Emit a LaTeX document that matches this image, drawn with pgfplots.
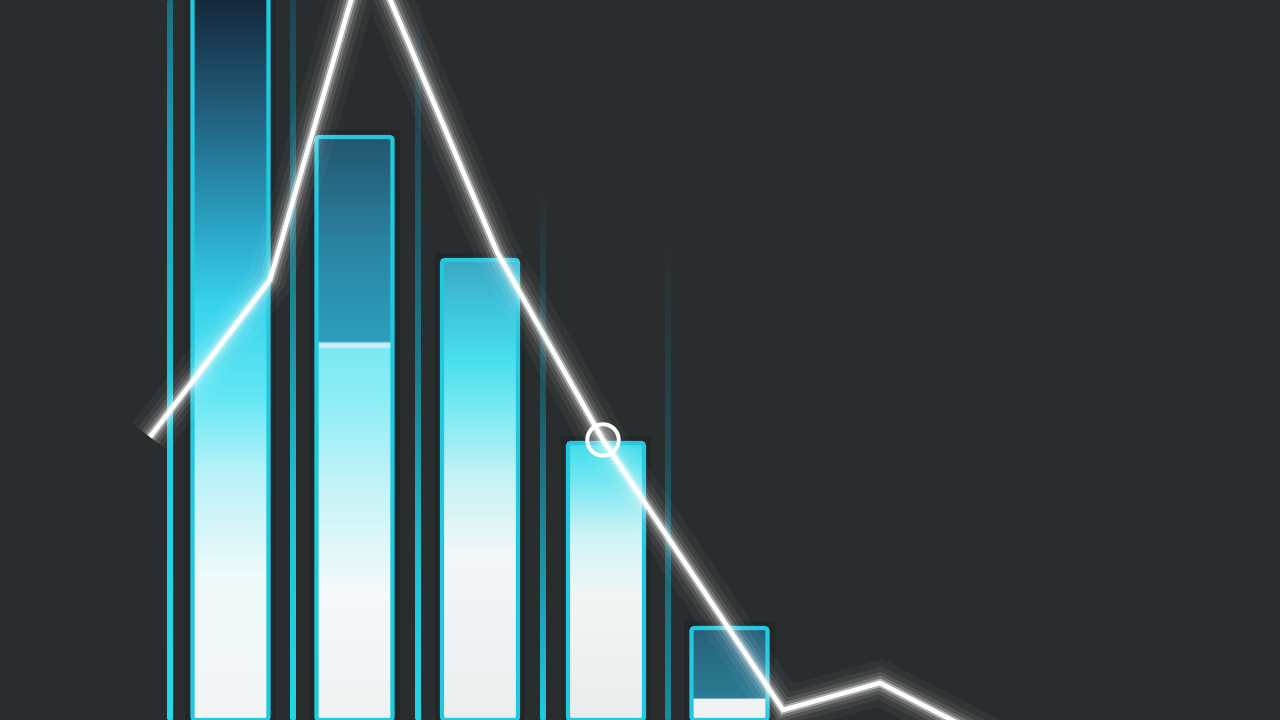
\documentclass[border=0pt]{standalone}
\usepackage{pgfplots}
\usepackage{pgfplotstable}
\pgfplotsset{compat=1.18}
\definecolor{bg}{HTML}{2A2D2E}
\definecolor{edge}{HTML}{22C8E0}
% bar 1
\definecolor{aA}{HTML}{F4F5F5}\definecolor{aB}{HTML}{F0F9FA}\definecolor{aC}{HTML}{B8F2F8}
\definecolor{aD}{HTML}{62E6F4}\definecolor{aE}{HTML}{38D4EC}\definecolor{aF}{HTML}{2AA4C6}
\definecolor{aG}{HTML}{215E7C}\definecolor{aH}{HTML}{15283A}\definecolor{aI}{HTML}{101E2A}
% bar 2
\definecolor{bA}{HTML}{F0F2F2}\definecolor{bB}{HTML}{F4F9F9}\definecolor{bC}{HTML}{C8F4F8}
\definecolor{bD}{HTML}{8CECF4}\definecolor{bE}{HTML}{7AE8F2}\definecolor{bF}{HTML}{C8EEF2}
\definecolor{bG}{HTML}{2C9EBE}\definecolor{bH}{HTML}{2A84A4}\definecolor{bI}{HTML}{23566E}
% bar 3
\definecolor{cA}{HTML}{ECEEEE}\definecolor{cB}{HTML}{F2F7F7}\definecolor{cC}{HTML}{C4F2F6}
\definecolor{cD}{HTML}{80EAF2}\definecolor{cE}{HTML}{48DEEE}\definecolor{cF}{HTML}{3CC0D8}
\definecolor{cG}{HTML}{3AA8C4}
% bar 4
\definecolor{dA}{HTML}{EAECEC}\definecolor{dB}{HTML}{F2F5F5}\definecolor{dC}{HTML}{D0F4F6}
\definecolor{dD}{HTML}{70E6F0}\definecolor{dE}{HTML}{40DCEC}
% bar 5
\definecolor{eA}{HTML}{F2F2F2}\definecolor{eB}{HTML}{2A7C94}\definecolor{eC}{HTML}{27607A}
% thin lines
\definecolor{lA}{HTML}{22DAEA}\definecolor{lB}{HTML}{20CCE0}\definecolor{lC}{HTML}{1C98B0}\definecolor{lD}{HTML}{1A6E84}
\definecolor{mA}{HTML}{22D6E6}\definecolor{mB}{HTML}{20C0D6}\definecolor{mC}{HTML}{1A7484}\definecolor{mD}{HTML}{1E4450}
\definecolor{nB}{HTML}{20C4DA}\definecolor{nC}{HTML}{1A7A8A}\definecolor{nD}{HTML}{24404A}
\definecolor{oA}{HTML}{20CCE0}\definecolor{oB}{HTML}{1C9CB2}\definecolor{oC}{HTML}{1E5562}
\definecolor{pA}{HTML}{1A8C9C}\definecolor{pB}{HTML}{1A7080}\definecolor{pC}{HTML}{234850}

\pgfdeclareverticalshading{barA}{100bp}{color(0bp)=(aA); color(25bp)=(aA); color(34bp)=(aB); color(40.6bp)=(aC); color(45.6bp)=(aD); color(51.2bp)=(aE); color(56.2bp)=(aF); color(63.7bp)=(aG); color(70.6bp)=(aH); color(75bp)=(aI); color(100bp)=(aI)}
\pgfdeclareverticalshading{barB}{100bp}{color(0bp)=(bA); color(25bp)=(bA); color(36bp)=(bB); color(44.4bp)=(bC); color(52.8bp)=(bD); color(56.9bp)=(bE); color(57bp)=(bF); color(57.35bp)=(bF); color(57.5bp)=(bG); color(65.5bp)=(bH); color(75bp)=(bI); color(100bp)=(bI)}
\pgfdeclareverticalshading{barC}{100bp}{color(0bp)=(cA); color(25bp)=(cA); color(43.1bp)=(cB); color(51.6bp)=(cC); color(58bp)=(cD); color(64.4bp)=(cE); color(70.7bp)=(cF); color(75bp)=(cG); color(100bp)=(cG)}
\pgfdeclareverticalshading{barD}{100bp}{color(0bp)=(dA); color(25bp)=(dA); color(47.6bp)=(dB); color(58.1bp)=(dC); color(68.6bp)=(dD); color(75bp)=(dE); color(100bp)=(dE)}
\pgfdeclareverticalshading{barE}{100bp}{color(0bp)=(eA); color(25bp)=(eA); color(36.6bp)=(eA); color(37.2bp)=(eB); color(75bp)=(eC); color(100bp)=(eC)}
\pgfdeclareverticalshading{lnA}{100bp}{color(0bp)=(lA); color(25bp)=(lA); color(45.5bp)=(lB); color(66bp)=(lC); color(75bp)=(lD); color(100bp)=(lD)}
\pgfdeclareverticalshading{lnB}{100bp}{color(0bp)=(mA); color(25bp)=(mA); color(40.8bp)=(mB); color(58bp)=(mC); color(75bp)=(mD); color(100bp)=(mD)}
\pgfdeclareverticalshading{lnC}{100bp}{color(0bp)=(mA); color(25bp)=(mA); color(35bp)=(nB); color(50bp)=(nC); color(68.2bp)=(nD); color(75bp)=(bg); color(100bp)=(bg)}
\pgfdeclareverticalshading{lnD}{100bp}{color(0bp)=(oA); color(25bp)=(oA); color(33.9bp)=(oB); color(48bp)=(oC); color(62bp)=(bg); color(100bp)=(bg)}
\pgfdeclareverticalshading{lnE}{100bp}{color(0bp)=(pA); color(25bp)=(pA); color(33.9bp)=(pB); color(44.2bp)=(pC); color(58bp)=(bg); color(100bp)=(bg)}

\pgfplotstableread{
x y
150 293
270 450
367 785
497 478
603 290
783 20
880 47
1000 -15
}\linedata

\begin{document}
\begin{tikzpicture}
\begin{axis}[
  width=16cm, height=9cm, scale only axis,
  xmin=0, xmax=1280, ymin=10, ymax=730,
  xtick=\empty, ytick=\empty,
  axis line style={draw=none},
  axis background/.style={fill=bg},
  clip=true,
]
% thin vertical lines
\addplot[ybar, bar width=5, bar shift=0pt, draw=none, shade, shading=lnA] coordinates {(170,730)};
\addplot[ybar, bar width=5, bar shift=0pt, draw=none, shade, shading=lnB] coordinates {(293,730)};
\addplot[ybar, bar width=5, bar shift=0pt, draw=none, shade, shading=lnC] coordinates {(418,730)};
\addplot[ybar, bar width=5, bar shift=0pt, draw=none, shade, shading=lnD] coordinates {(543,730)};
\addplot[ybar, bar width=5, bar shift=0pt, draw=none, shade, shading=lnE] coordinates {(668,730)};
% bar shadow
\addplot[ybar, bar width=76, bar shift=0pt, draw=black, draw opacity=0.12, line width=5pt, fill=none] coordinates {(230.5,800) (354.5,593) (480,470) (606,287) (729.5,102)};
% bars
\addplot[ybar, bar width=76, bar shift=0pt, draw=edge, line width=1.5pt, shade, shading=barA, rounded corners=1pt] coordinates {(230.5,800)};
\addplot[ybar, bar width=76, bar shift=0pt, draw=edge, line width=1.5pt, shade, shading=barB, rounded corners=1pt] coordinates {(354.5,593)};
\addplot[ybar, bar width=76, bar shift=0pt, draw=edge, line width=1.5pt, shade, shading=barC, rounded corners=1pt] coordinates {(480,470)};
\addplot[ybar, bar width=76, bar shift=0pt, draw=edge, line width=1.5pt, shade, shading=barD, rounded corners=1pt] coordinates {(606,287)};
\addplot[ybar, bar width=76, bar shift=0pt, draw=edge, line width=1.5pt, shade, shading=barE, rounded corners=1pt] coordinates {(729.5,102)};
% glowing white line
\addplot[white, opacity=0.04, line width=16pt, no markers] table[x=x,y=y] {\linedata};
\addplot[white, opacity=0.06, line width=11pt, no markers] table[x=x,y=y] {\linedata};
\addplot[white, opacity=0.1, line width=7.5pt, no markers] table[x=x,y=y] {\linedata};
\addplot[white, opacity=0.18, line width=5pt, no markers] table[x=x,y=y] {\linedata};
\addplot[white, opacity=0.4, line width=3pt, no markers] table[x=x,y=y] {\linedata};
\addplot[white, line width=1.6pt, no markers] table[x=x,y=y] {\linedata};
% marker
\addplot[only marks, mark=*, mark size=5.6pt, mark options={draw=white, line width=1.4pt, fill=white, fill opacity=0.2}] coordinates {(603,290)};
\end{axis}
\end{tikzpicture}
\end{document}
